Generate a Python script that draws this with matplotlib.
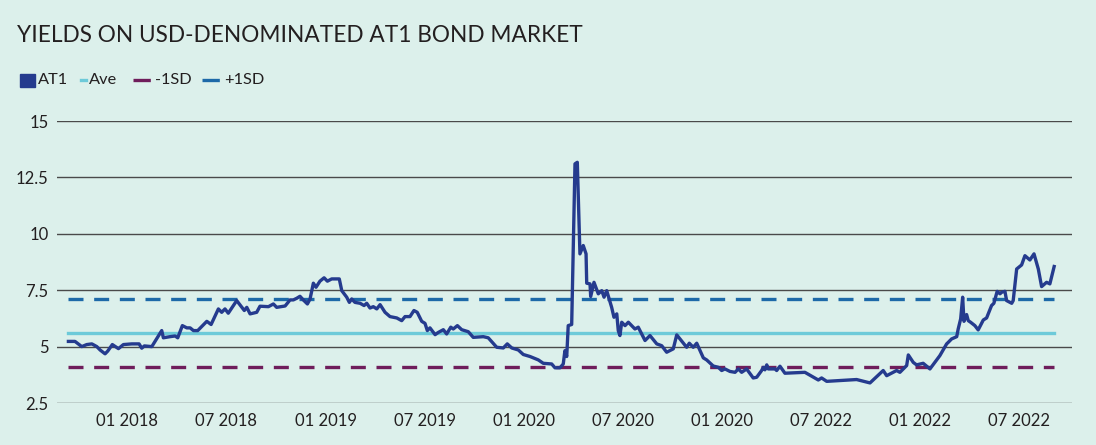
import matplotlib
matplotlib.use("Agg")
import matplotlib.pyplot as plt
from matplotlib.lines import Line2D
from matplotlib.patches import Rectangle

# x = months since Jan 2018, y = yield (%)
months = [-3.57, -3.17, -2.76, -2.46, -2.15, -1.85, -1.65, -1.35, -1.19, -0.91,
          -0.54, -0.24, 0.27, 0.71, 0.87, 1.03, 1.48, 2.08, 2.18, 2.58,
          2.89, 3.05, 3.33, 3.60, 3.80, 4.00, 4.26, 4.81, 5.07, 5.51,
          5.71, 5.91, 6.11, 6.62, 7.08, 7.23, 7.43, 7.83, 8.03, 8.54,
          8.84, 9.04, 9.55, 9.85, 10.05, 10.25, 10.45, 10.65, 10.90, 11.06,
          11.26, 11.42, 11.66, 11.91, 12.11, 12.37, 12.83, 12.98, 13.28, 13.44,
          13.58, 13.78, 14.09, 14.33, 14.49, 14.69, 14.89, 15.10, 15.30, 15.60,
          15.90, 16.31, 16.61, 16.81, 17.11, 17.35, 17.55, 17.82, 18.02, 18.16,
          18.32, 18.63, 18.83, 19.13, 19.33, 19.58, 19.73, 19.98, 20.24, 20.64,
          20.94, 21.55, 21.85, 22.36, 22.76, 23.00, 23.27, 23.67, 23.97, 24.38,
          24.88, 25.18, 25.69, 25.89, 26.19, 26.39, 26.49, 26.60, 26.69, 26.90,
          27.10, 27.24, 27.40, 27.60, 27.77, 27.81, 28.01, 28.05, 28.25, 28.51,
          28.72, 28.86, 29.02, 29.32, 29.46, 29.63, 29.72, 29.82, 29.93, 30.13,
          30.33, 30.73, 30.93, 31.34, 31.64, 32.05, 32.35, 32.65, 33.05, 33.26,
          33.86, 34.02, 34.26, 34.47, 34.87, 35.07, 35.47, 35.78, 35.98, 36.18,
          36.48, 36.79, 36.99, 37.19, 37.49, 37.89, 38.10, 38.40, 38.50, 38.60,
          38.71, 38.80, 39.21, 39.31, 39.51, 39.81, 41.02, 41.83, 42.03, 42.34,
          44.15, 44.96, 45.76, 45.97, 46.57, 46.77, 47.18, 47.28, 47.58, 47.78,
          48.18, 48.59, 49.19, 49.60, 49.70, 49.90, 50.21, 50.30, 50.45, 50.57,
          50.65, 50.81, 50.91, 51.05, 51.31, 51.51, 51.82, 52.02, 52.32, 52.46,
          52.66, 52.83, 52.93, 53.13, 53.23, 53.54, 53.63, 53.84, 54.14, 54.34,
          54.64, 54.89, 55.15, 55.35, 55.65, 55.85, 56.11]
at1 = [5.23, 5.23, 5.00, 5.09, 5.12, 5.00, 4.85, 4.68, 4.80, 5.09,
       4.91, 5.09, 5.12, 5.12, 4.93, 5.03, 5.00, 5.71, 5.39, 5.44,
       5.47, 5.39, 5.93, 5.83, 5.83, 5.71, 5.71, 6.12, 5.98, 6.67,
       6.52, 6.67, 6.48, 7.04, 6.60, 6.74, 6.45, 6.52, 6.79, 6.77,
       6.89, 6.74, 6.80, 7.07, 7.07, 7.14, 7.23, 7.07, 6.89, 7.11,
       7.81, 7.63, 7.90, 8.05, 7.90, 8.00, 8.00, 7.48, 7.19, 6.96,
       7.11, 6.96, 6.92, 6.82, 6.92, 6.71, 6.77, 6.67, 6.86, 6.52,
       6.33, 6.27, 6.15, 6.33, 6.33, 6.60, 6.52, 6.12, 6.03, 5.71,
       5.83, 5.53, 5.63, 5.75, 5.56, 5.86, 5.78, 5.93, 5.75, 5.66,
       5.41, 5.44, 5.39, 4.97, 4.94, 5.12, 4.94, 4.85, 4.65, 4.56,
       4.41, 4.26, 4.23, 4.06, 4.06, 4.23, 4.82, 4.56, 5.93, 5.98,
       13.10, 13.17, 9.11, 9.48, 9.11, 7.81, 7.78, 7.22, 7.85, 7.34,
       7.48, 7.19, 7.48, 6.74, 6.30, 6.45, 5.71, 5.49, 6.08, 5.93,
       6.08, 5.78, 5.86, 5.27, 5.49, 5.12, 5.04, 4.75, 4.90, 5.52,
       4.97, 5.15, 4.97, 5.15, 4.50, 4.41, 4.14, 4.08, 3.94, 4.01,
       3.90, 3.86, 4.01, 3.86, 4.01, 3.61, 3.64, 3.94, 4.08, 3.97,
       4.19, 4.01, 4.01, 3.94, 4.13, 3.82, 3.86, 3.52, 3.61, 3.46,
       3.54, 3.39, 3.94, 3.71, 3.94, 3.86, 4.16, 4.63, 4.30, 4.19,
       4.26, 4.01, 4.60, 5.12, 5.19, 5.34, 5.44, 5.78, 6.23, 7.19,
       6.12, 6.42, 6.15, 6.08, 5.93, 5.74, 6.18, 6.27, 6.82, 6.92,
       7.45, 7.34, 7.41, 7.45, 7.04, 6.92, 7.04, 8.44, 8.62, 9.03,
       8.84, 9.11, 8.44, 7.66, 7.85, 7.78, 8.55]

ave = 5.62
minus_1sd = 4.11
plus_1sd = 7.10

tick_months = [0, 6, 12, 18, 24, 30, 36, 42, 48, 54]
tick_labels = ["01 2018", "07 2018", "01 2019", "07 2019", "01 2020",
               "07 2020", "01 2020", "07 2022", "01 2022", "07 2022"]
y_ticks = [2.5, 5, 7.5, 10, 12.5, 15]
y_labels = ["2.5", "5", "7.5", "10", "12.5", "15"]

bg = "#dcf0eb"
c_at1 = "#253b8e"
c_ave = "#6dcad9"
c_minus = "#6f1d5b"
c_plus = "#1d69a8"
txt = "#231f20"

plt.rcParams['font.family'] = ['Lato', 'DejaVu Sans']

W, H = 1096, 445
fig = plt.figure(figsize=(W / 100, H / 100), dpi=100, facecolor=bg)
ax = fig.add_axes([57 / W, 1 - 403 / H, (1072 - 57) / W, (403 - 121) / H])
ax.set_facecolor(bg)

for yv in y_ticks:
    ax.axhline(yv, color="#4a4a4a", lw=1.0, zorder=1)

x0, x1 = months[0], months[-1]
ax.plot([x0, x1], [ave, ave], color=c_ave, lw=2.4, zorder=2)
ax.plot([x0, x1], [minus_1sd, minus_1sd], color=c_minus, lw=2.4,
        dashes=(4.5, 3.2), zorder=2)
ax.plot([x0, x1], [plus_1sd, plus_1sd], color=c_plus, lw=2.4,
        dashes=(4.5, 3.2), zorder=2)
ax.plot(months, at1, color=c_at1, lw=2.4, zorder=3)

ax.set_xlim(-4.26, 57.19)
ax.set_ylim(2.5, 15)
ax.set_xticks(tick_months)
ax.set_xticklabels(tick_labels)
ax.set_yticks(y_ticks)
ax.set_yticklabels(y_labels)
ax.tick_params(length=0, labelsize=12, colors=txt, pad=6)
ax.tick_params(axis='x', pad=7)
for s in ax.spines.values():
    s.set_visible(False)

fig.text(17 / W, 1 - 35 / H, "YIELDS ON USD-DENOMINATED AT1 BOND MARKET",
         fontsize=16.3, color=txt, va='center', ha='left')

# legend, drawn by hand in figure pixels
ly = 1 - 80 / H
fs = 11.8
fig.add_artist(Rectangle((20 / W, 1 - 87 / H), 15 / W, 13 / H,
                         transform=fig.transFigure, color=c_at1))
fig.text(38 / W, ly, "AT1", fontsize=fs, color=txt, va='center')
fig.add_artist(Line2D([81 / W, 86 / W], [ly, ly], color=c_ave, lw=2.4,
                      transform=fig.transFigure))
fig.text(89 / W, ly, "Ave", fontsize=fs, color=txt, va='center')
fig.add_artist(Line2D([133 / W, 152 / W], [ly, ly], color=c_minus, lw=2.4,
                      dashes=(5.2, 3.0), transform=fig.transFigure))
fig.text(155 / W, ly, "-1SD", fontsize=fs, color=txt, va='center')
fig.add_artist(Line2D([202 / W, 221 / W], [ly, ly], color=c_plus, lw=2.4,
                      dashes=(5.2, 3.0), transform=fig.transFigure))
fig.text(224 / W, ly, "+1SD", fontsize=fs, color=txt, va='center')

fig.savefig("out.png", dpi=100, facecolor=bg)
